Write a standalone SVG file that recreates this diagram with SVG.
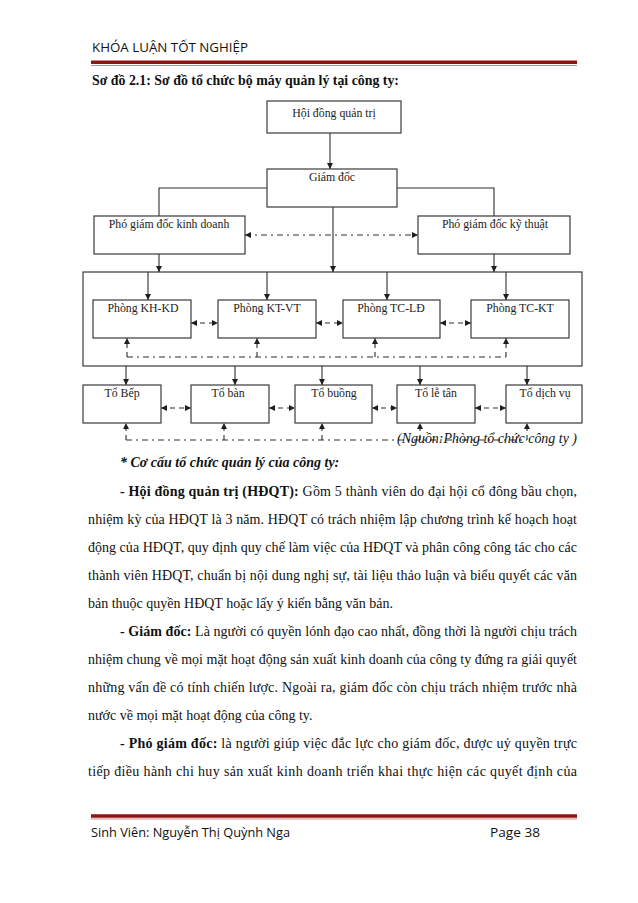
<svg xmlns="http://www.w3.org/2000/svg" width="638" height="903" viewBox="0 0 638 903">
<style>
.bg{fill:#ffffff}
.box{fill:#ffffff;stroke:#3a3a3a;stroke-width:1.2}
.lbl{font-family:"Liberation Serif","Times New Roman",serif;font-size:11.8px;fill:#222;text-anchor:middle}
.ln{fill:none;stroke:#2e2e2e;stroke-width:1.1}
.dash{fill:none;stroke:#2e2e2e;stroke-width:1.1;stroke-dasharray:5 4}
.dd{fill:none;stroke:#2e2e2e;stroke-width:1.1;stroke-dasharray:6 4 2 4}
.hdr{font-family:"Open Sans","Noto Sans",sans-serif;font-size:13px;fill:#111}
.body{font-family:"Liberation Serif","Times New Roman",serif;font-size:14px;fill:#111}
.b{font-weight:bold}
.rule{stroke:#8e1414;stroke-width:3.4}
.rule2{stroke:#c98a8a;stroke-width:1}
</style>
<defs>
<marker id="ah" viewBox="0 0 10 10" refX="10" refY="5" markerWidth="6" markerHeight="6" markerUnits="userSpaceOnUse" orient="auto-start-reverse">
<path d="M0,0 L10,5 L0,10 z" fill="#1e1e1e"/>
</marker>
</defs>
<rect class="bg" x="0" y="0" width="638" height="903"/>

<g id="header">
<text class="hdr" x="92" y="52" textLength="156" lengthAdjust="spacingAndGlyphs">KHÓA LUẬN TỐT NGHIỆP</text>
<line class="rule" x1="91" y1="62.3" x2="577" y2="62.3"/>
<line class="rule2" x1="91" y1="65.5" x2="577" y2="65.5"/>
<text class="body b" x="92" y="85" textLength="307" lengthAdjust="spacingAndGlyphs">Sơ đồ 2.1: Sơ đồ tổ chức bộ máy quản lý tại công ty:</text>
</g>

<g id="outer-frame">
<rect class="box" x="83" y="272" width="499" height="94"/>
</g>

<g id="connectors">
<line class="ln" x1="330" y1="133" x2="330" y2="169" marker-end="url(#ah)"/>
<polyline class="ln" points="267,188 159,188 159,216"/>
<polyline class="ln" points="397,188 494,188 494,216"/>
<line class="ln" x1="333" y1="207" x2="333" y2="272" marker-end="url(#ah)"/>
<line class="ln" x1="159" y1="254" x2="159" y2="272" marker-end="url(#ah)"/>
<line class="ln" x1="494" y1="254" x2="494" y2="272" marker-end="url(#ah)"/>
<line class="dd" x1="245" y1="235" x2="418" y2="235" marker-start="url(#ah)" marker-end="url(#ah)"/>

<line class="ln" x1="148" y1="272" x2="148" y2="300" marker-end="url(#ah)"/>
<line class="ln" x1="267" y1="272" x2="267" y2="300" marker-end="url(#ah)"/>
<line class="ln" x1="387" y1="272" x2="387" y2="300" marker-end="url(#ah)"/>
<line class="ln" x1="506" y1="272" x2="506" y2="300" marker-end="url(#ah)"/>

<line class="dash" x1="191" y1="323" x2="218" y2="323" marker-start="url(#ah)" marker-end="url(#ah)"/>
<line class="dash" x1="316" y1="323" x2="343" y2="323" marker-start="url(#ah)" marker-end="url(#ah)"/>
<line class="dash" x1="440" y1="323" x2="471" y2="323" marker-start="url(#ah)" marker-end="url(#ah)"/>

<line class="dash" x1="127" y1="357" x2="127" y2="338" marker-end="url(#ah)"/>
<line class="dash" x1="257" y1="357" x2="257" y2="338" marker-end="url(#ah)"/>
<line class="dash" x1="375" y1="357" x2="375" y2="338" marker-end="url(#ah)"/>
<line class="dash" x1="506" y1="357" x2="506" y2="338" marker-end="url(#ah)"/>
<line class="dd" x1="127" y1="357" x2="506" y2="357"/>

<line class="ln" x1="126" y1="366" x2="126" y2="385" marker-end="url(#ah)"/>
<line class="ln" x1="235" y1="366" x2="235" y2="385" marker-end="url(#ah)"/>
<line class="ln" x1="322" y1="366" x2="322" y2="385" marker-end="url(#ah)"/>
<line class="ln" x1="420" y1="366" x2="420" y2="385" marker-end="url(#ah)"/>
<line class="ln" x1="527" y1="366" x2="527" y2="385" marker-end="url(#ah)"/>

<line class="dash" x1="161" y1="408" x2="191" y2="408" marker-start="url(#ah)" marker-end="url(#ah)"/>
<line class="dash" x1="269" y1="408" x2="295" y2="408" marker-start="url(#ah)" marker-end="url(#ah)"/>
<line class="dash" x1="372" y1="408" x2="397" y2="408" marker-start="url(#ah)" marker-end="url(#ah)"/>
<line class="dash" x1="475" y1="408" x2="506" y2="408" marker-start="url(#ah)" marker-end="url(#ah)"/>

<line class="dash" x1="126" y1="440" x2="126" y2="423" marker-end="url(#ah)"/>
<line class="dash" x1="224" y1="440" x2="224" y2="423" marker-end="url(#ah)"/>
<line class="dash" x1="322" y1="440" x2="322" y2="423" marker-end="url(#ah)"/>
<line class="dash" x1="420" y1="440" x2="420" y2="423" marker-end="url(#ah)"/>
<line class="dash" x1="527" y1="440" x2="527" y2="423" marker-end="url(#ah)"/>
<line class="dd" x1="126" y1="440" x2="527" y2="440"/>
</g>

<g id="hdqt"><rect class="box" x="267" y="101" width="134" height="32"/><text class="lbl" x="334" y="117">Hội đồng quản trị</text></g>
<g id="giamdoc"><rect class="box" x="267" y="169" width="130" height="38"/><text class="lbl" x="332" y="181">Giám đốc</text></g>
<g id="pgd-kd"><rect class="box" x="94" y="216" width="151" height="38"/><text class="lbl" x="169" y="228">Phó giám đốc kinh doanh</text></g>
<g id="pgd-kt"><rect class="box" x="418" y="216" width="152" height="38"/><text class="lbl" x="495" y="228">Phó giám đốc kỹ thuật</text></g>

<g id="p-khkd"><rect class="box" x="93" y="300" width="98" height="38"/><text class="lbl" x="143" y="312">Phòng KH-KD</text></g>
<g id="p-ktvt"><rect class="box" x="218" y="300" width="98" height="38"/><text class="lbl" x="267" y="312">Phòng KT-VT</text></g>
<g id="p-tcld"><rect class="box" x="343" y="300" width="97" height="38"/><text class="lbl" x="391" y="312">Phòng TC-LĐ</text></g>
<g id="p-tckt"><rect class="box" x="471" y="300" width="98" height="38"/><text class="lbl" x="520" y="312">Phòng TC-KT</text></g>

<g id="t-bep"><rect class="box" x="83" y="385" width="78" height="38"/><text class="lbl" x="122" y="397">Tổ Bếp</text></g>
<g id="t-ban"><rect class="box" x="191" y="385" width="78" height="38"/><text class="lbl" x="228" y="397">Tổ bàn</text></g>
<g id="t-buong"><rect class="box" x="295" y="385" width="77" height="38"/><text class="lbl" x="334" y="397">Tổ buồng</text></g>
<g id="t-letan"><rect class="box" x="397" y="385" width="78" height="38"/><text class="lbl" x="436" y="397">Tổ lễ tân</text></g>
<g id="t-dichvu"><rect class="box" x="506" y="385" width="76" height="38"/><text class="lbl" x="545" y="397">Tổ dịch vụ</text></g>

<g id="source">
<text class="body" x="397" y="443" font-style="italic" textLength="180" lengthAdjust="spacingAndGlyphs">(Nguồn:Phòng tổ chức công ty )</text>
</g>

<g id="body-text">
<text class="body b" x="120" y="467" font-style="italic">* Cơ cấu tổ chức quản lý của công ty:</text>

<text class="body" x="120" y="496" textLength="457" lengthAdjust="spacing"><tspan class="b">- Hội đồng quản trị (HĐQT):</tspan> Gồm 5 thành viên do đại hội cổ đông bầu chọn,</text>
<text class="body" x="88" y="524" textLength="489" lengthAdjust="spacing">nhiệm kỳ của HĐQT là 3 năm. HĐQT có trách nhiệm lập chương trình kế hoạch hoạt</text>
<text class="body" x="88" y="552" textLength="489" lengthAdjust="spacing">động của HĐQT, quy định quy chế làm việc của HĐQT và phân công công tác cho các</text>
<text class="body" x="88" y="580" textLength="489" lengthAdjust="spacing">thành viên HĐQT, chuẩn bị nội dung nghị sự, tài liệu thảo luận và biểu quyết các văn</text>
<text class="body" x="88" y="608">bản thuộc quyền HĐQT hoặc lấy ý kiến bằng văn bản.</text>

<text class="body" x="120" y="636" textLength="457" lengthAdjust="spacing"><tspan class="b">- Giám đốc:</tspan> Là người có quyền lónh đạo cao nhất, đồng thời là người chịu trách</text>
<text class="body" x="88" y="664" textLength="489" lengthAdjust="spacing">nhiệm chung về mọi mặt hoạt động sản xuất kinh doanh của công ty đứng ra giải quyết</text>
<text class="body" x="88" y="692" textLength="489" lengthAdjust="spacing">những vấn đề có tính chiến lược. Ngoài ra, giám đốc còn chịu trách nhiệm trước nhà</text>
<text class="body" x="88" y="720">nước về mọi mặt hoạt động của công ty.</text>

<text class="body" x="120" y="748" textLength="457" lengthAdjust="spacing"><tspan class="b">- Phó giám đốc:</tspan> là người giúp việc đắc lực cho giám đốc, được uỷ quyền trực</text>
<text class="body" x="88" y="776" textLength="489" lengthAdjust="spacing">tiếp điều hành chi huy sản xuất kinh doanh triển khai thực hiện các quyết định của</text>
</g>

<g id="footer">
<line class="rule" x1="91" y1="816" x2="577" y2="816"/>
<line class="rule2" x1="91" y1="819" x2="577" y2="819"/>
<text class="hdr" x="91" y="837" textLength="199" lengthAdjust="spacingAndGlyphs">Sinh Viên: Nguyễn Thị Quỳnh Nga</text>
<text class="hdr" x="490" y="837" textLength="50" lengthAdjust="spacingAndGlyphs">Page 38</text>
</g>
</svg>
